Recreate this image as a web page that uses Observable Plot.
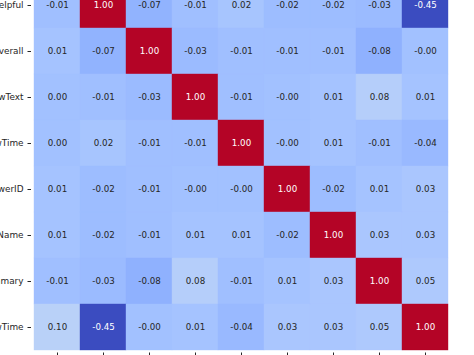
<!DOCTYPE html>
<html>
<head>
<meta charset="utf-8">
<script src="https://cdn.jsdelivr.net/npm/d3@7"></script>
<script src="https://cdn.jsdelivr.net/npm/@observablehq/plot@0.6"></script>
<style>
  html, body { margin: 0; padding: 0; background: #fff; overflow: hidden; }
  #chart svg { display: block; }
</style>
</head>
<body>
<div id="chart"></div>
<script>
// Variables (rows and columns share the same order)
const variables = ["asin", "helpful", "overall", "reviewText", "reviewTime",
                   "reviewerID", "reviewerName", "summary", "unixReviewTime"];

// Correlation values (row by row)
const rowAsin           = [ 1.00, -0.01,  0.01,  0.00,  0.00,  0.01,  0.01, -0.01,  0.10];
const rowHelpful        = [-0.01,  1.00, -0.07, -0.01,  0.02, -0.02, -0.02, -0.03, -0.45];
const rowOverall        = [ 0.01, -0.07,  1.00, -0.03, -0.01, -0.01, -0.01, -0.08, -0.002];
const rowReviewText     = [ 0.00, -0.01, -0.03,  1.00, -0.01, -0.002, 0.01,  0.08,  0.01];
const rowReviewTime     = [ 0.00,  0.02, -0.01, -0.01,  1.00, -0.002, 0.01, -0.01, -0.04];
const rowReviewerID     = [ 0.01, -0.02, -0.01, -0.002, -0.002, 1.00, -0.02,  0.01,  0.03];
const rowReviewerName   = [ 0.01, -0.02, -0.01,  0.01,  0.01, -0.02,  1.00,  0.03,  0.03];
const rowSummary        = [-0.01, -0.03, -0.08,  0.08, -0.01,  0.01,  0.03,  1.00,  0.05];
const rowUnixReviewTime = [ 0.10, -0.45, -0.002, 0.01, -0.04,  0.03,  0.03,  0.05,  1.00];

const rows = [rowAsin, rowHelpful, rowOverall, rowReviewText, rowReviewTime,
              rowReviewerID, rowReviewerName, rowSummary, rowUnixReviewTime];

// matplotlib "coolwarm" colour stops
const coolwarm = [
  "rgb(59,76,192)","rgb(68,90,204)","rgb(77,104,215)","rgb(87,117,225)",
  "rgb(98,130,234)","rgb(108,142,241)","rgb(119,154,247)","rgb(130,165,251)",
  "rgb(141,176,254)","rgb(152,185,255)","rgb(163,194,255)","rgb(174,201,253)",
  "rgb(184,208,249)","rgb(194,213,244)","rgb(204,217,238)","rgb(213,219,230)",
  "rgb(221,221,221)","rgb(229,216,209)","rgb(236,211,197)","rgb(241,204,185)",
  "rgb(245,196,173)","rgb(247,187,160)","rgb(247,177,148)","rgb(247,166,135)",
  "rgb(244,154,123)","rgb(241,141,111)","rgb(236,127,99)","rgb(229,112,88)",
  "rgb(222,96,77)","rgb(213,80,66)","rgb(203,62,56)","rgb(192,40,47)","rgb(180,4,38)"
];
const vmin = -0.45, vmax = 1.00;

const data = [];
rows.forEach((r, i) => r.forEach((v, j) => data.push({row: variables[i], col: variables[j], value: v})));

const colorDomain = coolwarm.map((_, k) => vmin + (vmax - vmin) * k / (coolwarm.length - 1));
const fmt = v => v.toFixed(2);
const dark = d => Math.abs(d.value) > 0.4;

const plot = Plot.plot({
  width: 474,
  height: 355,
  marginLeft: 31,
  marginRight: 23,
  marginTop: -67,
  marginBottom: 2.5,
  style: {fontFamily: "DejaVu Sans, sans-serif", fontSize: "8.9px", color: "#262626", background: "#fff"},
  x: {domain: variables, padding: 0, tickSize: 3.5, tickPadding: 3.5, tickRotate: -90, label: null},
  y: {domain: variables, padding: 0, tickSize: 3.5, tickPadding: 4.5, label: null},
  color: {type: "linear", domain: colorDomain, range: coolwarm, interpolate: "rgb"},
  marks: [
    Plot.cell(data, {x: "col", y: "row", fill: "value", stroke: "value", strokeWidth: 0.4}),
    Plot.text(data.filter(d => !dark(d)), {x: "col", y: "row", text: d => fmt(d.value), fill: "#262626", fontSize: 8.7}),
    Plot.text(data.filter(dark), {x: "col", y: "row", text: d => fmt(d.value), fill: "#ffffff", fontSize: 8.7})
  ]
});
document.getElementById("chart").appendChild(plot);
</script>
</body>
</html>
